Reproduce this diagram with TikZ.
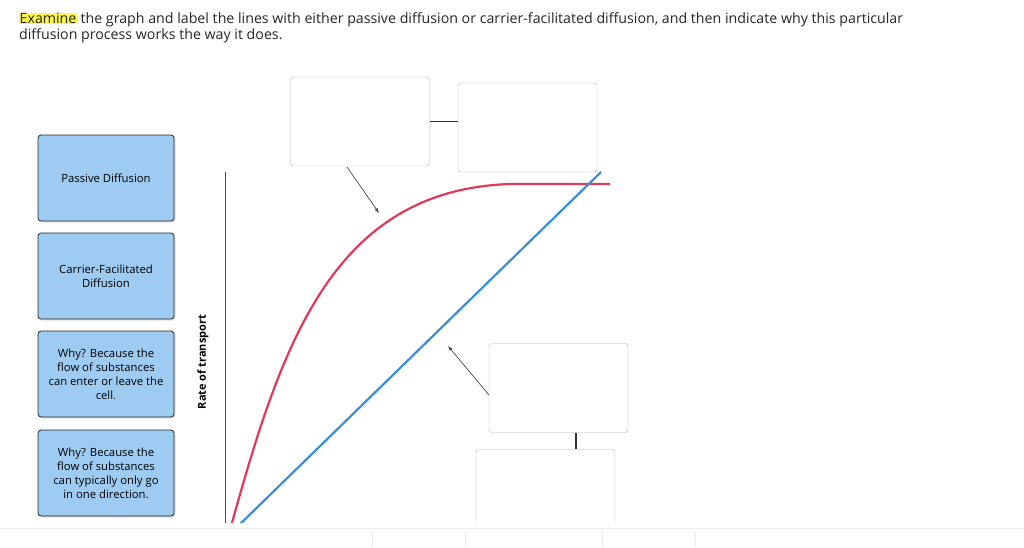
\documentclass[tikz,border=0pt]{standalone}
\usepackage{fontspec}
\setmainfont{Open Sans}
\usetikzlibrary{shadows}
\definecolor{boxblue}{HTML}{9ECBF2}
\definecolor{curvered}{HTML}{E03A5A}
\definecolor{lineblue}{HTML}{3A8FD6}
\definecolor{hl}{HTML}{FFF64A}
\tikzset{
  x=1pt,y=-1pt,
  choice/.style={draw=black!85,line width=0.8pt,fill=boxblue,rounded corners=3pt,minimum width=136pt,minimum height=86pt,align=center,font=\fontsize{11.3}{14}\selectfont,drop shadow={shadow xshift=1.5pt,shadow yshift=-1.5pt,opacity=0.25}},
  slot/.style={draw=black!30,fill=white,rounded corners=3pt,minimum width=139pt,minimum height=89pt},
  conn/.style={draw=black!80,line width=1.2pt},
  ptr/.style={draw=black!70,-latex,line width=0.7pt}
}
\begin{document}
\begin{tikzpicture}
\useasboundingbox (0,0) rectangle (1024,547);
\fill[white] (0,0) rectangle (1024,547);
\node[anchor=base west,inner sep=0,font=\fontsize{14.2}{15.5}\selectfont,align=left,text=black!85] (q) at (19,39) {\setlength{\fboxsep}{0.5pt}\colorbox{hl}{Examine} the graph and label the lines with either passive diffusion or carrier-facilitated diffusion, and then indicate why this particular\\diffusion process works the way it does.};
\node[choice] (c1) at (106,178) {Passive Diffusion};
\node[choice] (c2) at (106,276) {Carrier-Facilitated\\Diffusion};
\node[choice] (c3) at (106,374) {Why? Because the\\flow of substances\\can enter or leave the\\cell.};
\node[choice] (c4) at (106,473) {Why? Because the\\flow of substances\\can typically only go\\in one direction.};
\node[rotate=90,font=\bfseries\fontsize{11}{12}\selectfont] (yl) at (203,362) {Rate of transport};
\begin{scope}
\clip (0,0) rectangle (1024,522);
\coordinate (ax1) at (225,172); \coordinate (ax2) at (225,530);
\draw[black!70,line width=0.9pt] (ax1) -- (ax2);
\coordinate (r0) at (230,530); \coordinate (r1) at (610,184);
\draw[curvered,line width=2.2pt] (r0) .. controls (280,350) and (330,190) .. (510,184) -- (r1);
\coordinate (b0) at (234,530); \coordinate (b1) at (601,172);
\draw[lineblue,line width=2.2pt] (b0) -- (b1);
\node[slot] (t1) at (360,121.5) {};
\node[slot] (t2) at (527.5,127.5) {};
\node[slot] (s1) at (558.5,388) {};
\node[slot] (s2) at (545.5,494) {};
\draw[conn] (t1.east) -- (t1.east -| t2.west);
\draw[conn] (s1.south -| 576,0) -- (s2.north -| 576,0);
\coordinate (p1) at (347,167); \coordinate (p1e) at (379,213);
\draw[ptr] (p1) -- (p1e);
\coordinate (p2) at (489,395); \coordinate (p2e) at (448,346);
\draw[ptr] (p2) -- (p2e);
\end{scope}
\draw[black!8] (0,528) -- (1024,528);
\foreach \xx in {372,465,602,695} \draw[black!8] (\xx,531) -- (\xx,547);
\end{tikzpicture}
\end{document}
